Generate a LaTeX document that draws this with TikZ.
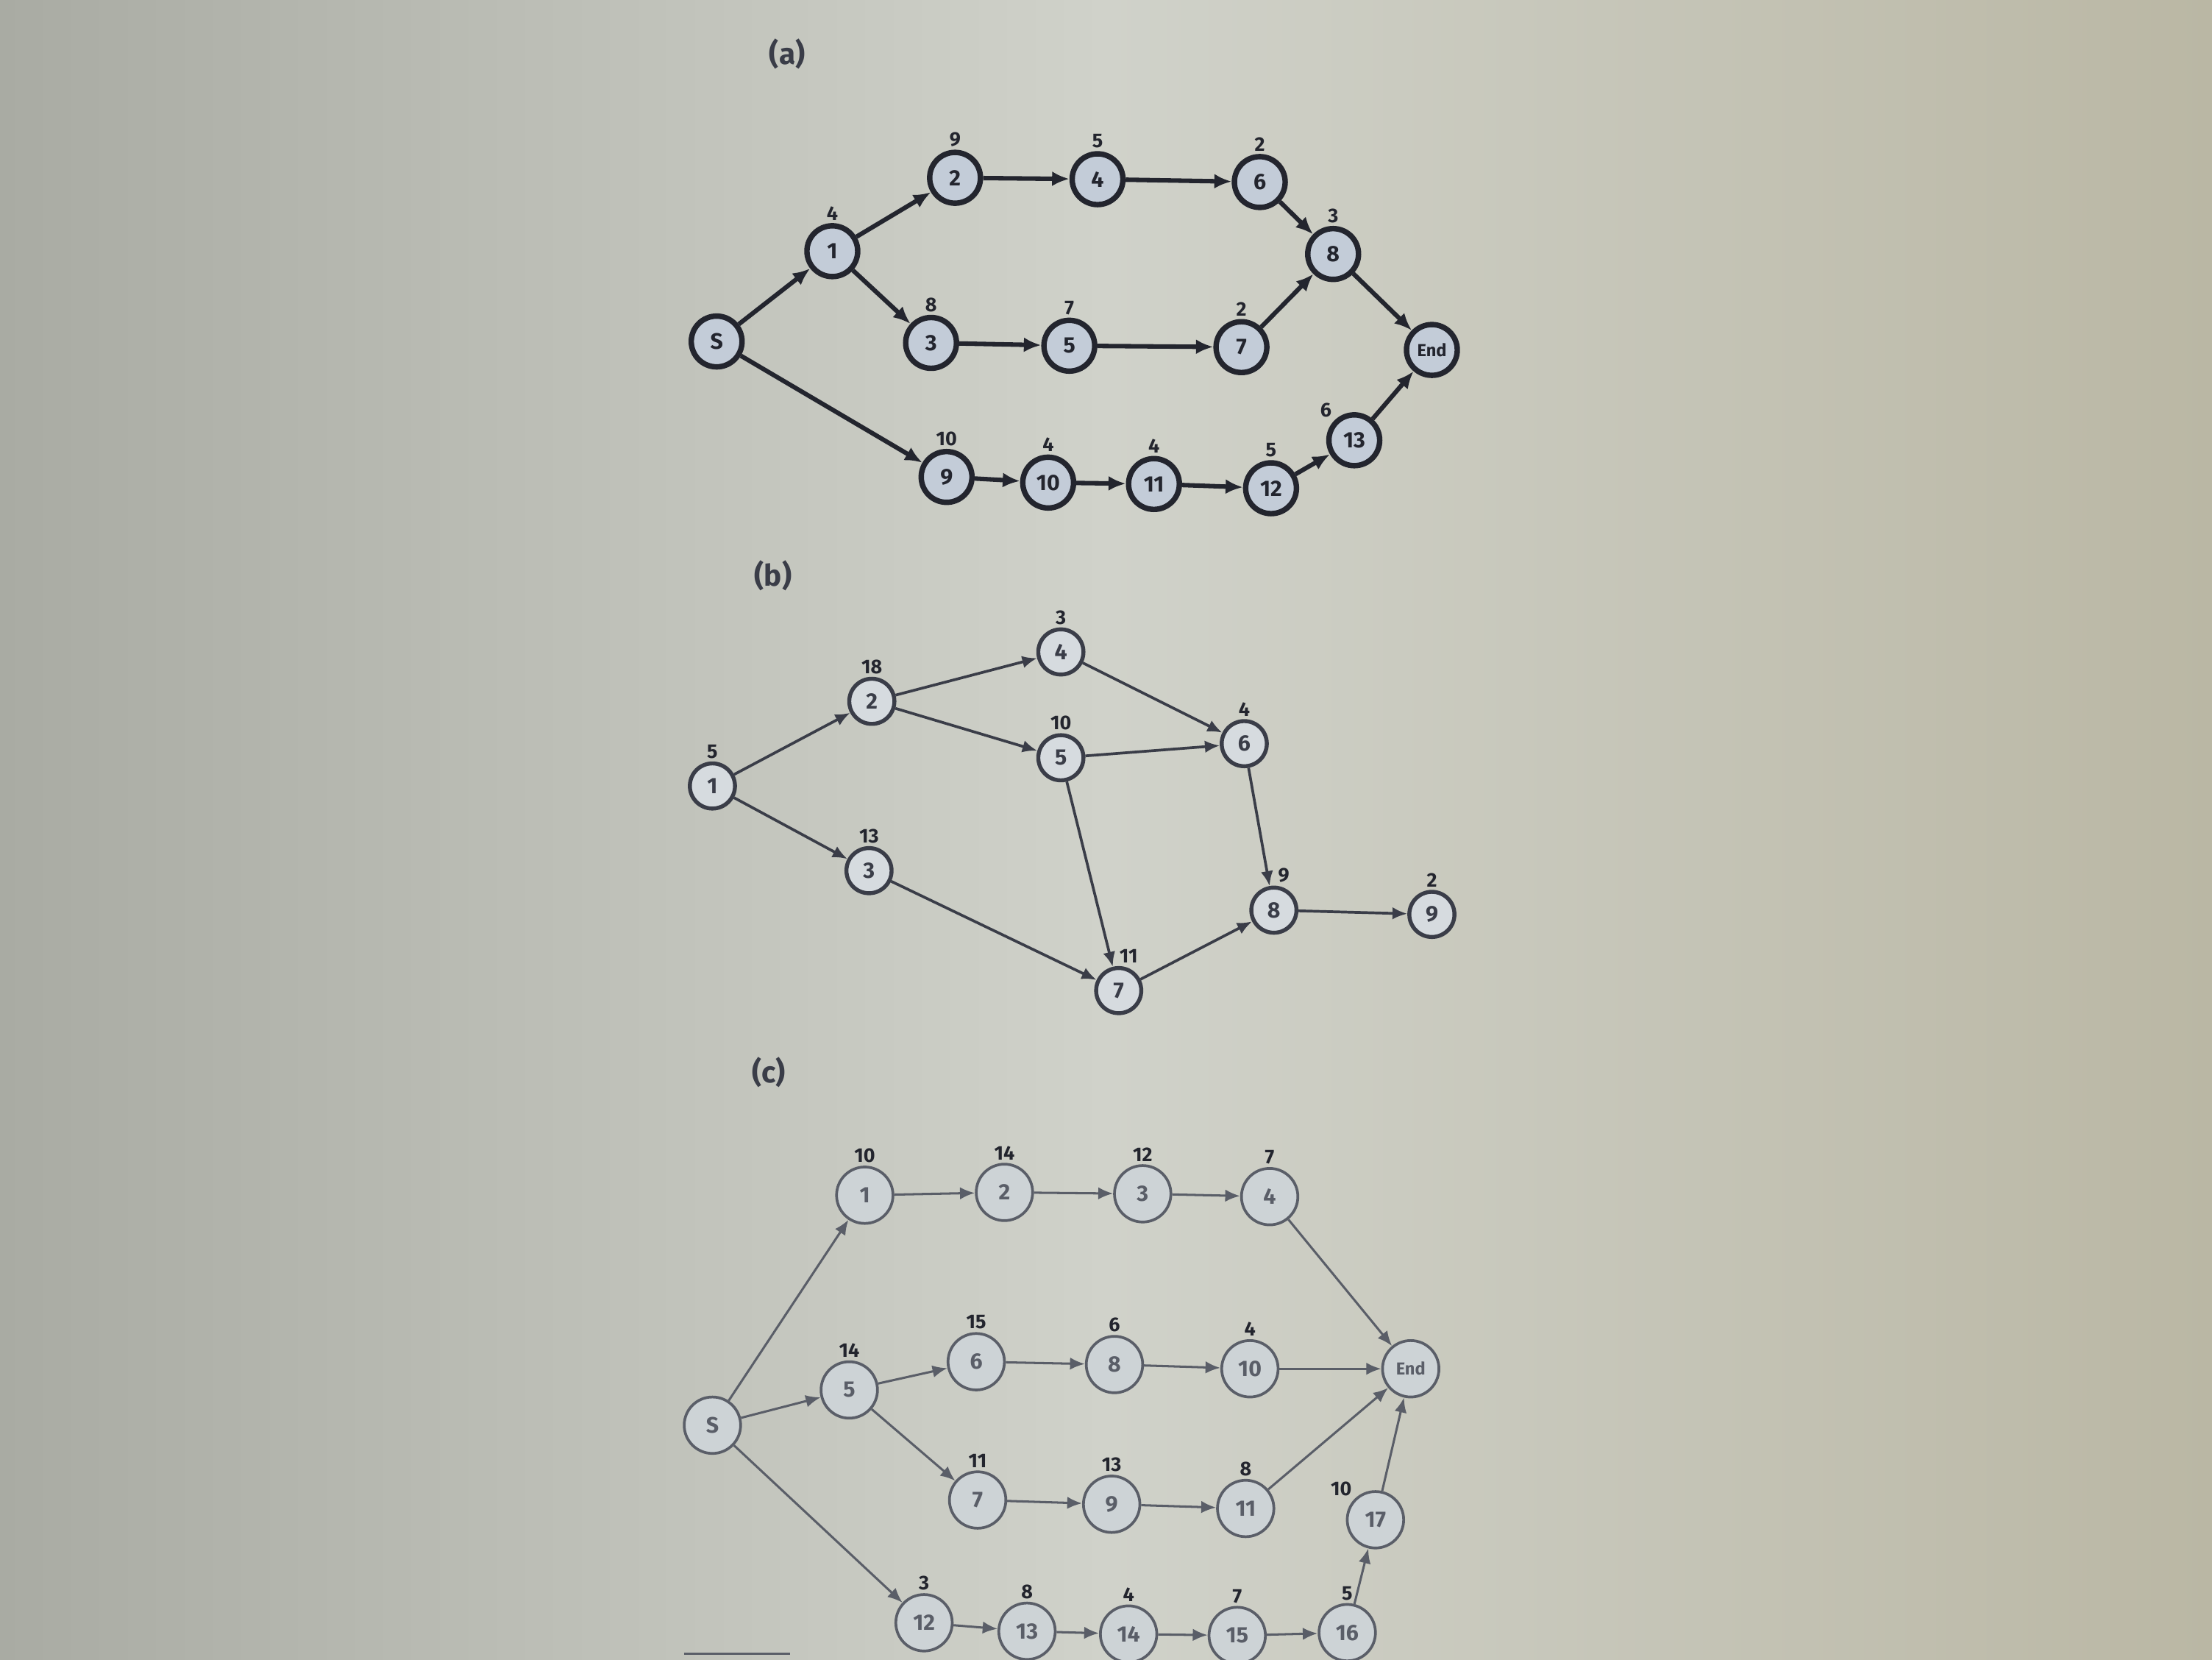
\documentclass[tikz,border=0pt]{standalone}
\usepackage{fontspec}
\setmainfont{Fira Sans}
\usetikzlibrary{arrows.meta}
\definecolor{bgl}{HTML}{A9ABA3}
\definecolor{bgm}{HTML}{D0D2CA}
\definecolor{bgr}{HTML}{BAB7A4}
\definecolor{inka}{HTML}{23252E}
\definecolor{inkb}{HTML}{3A3D48}
\definecolor{inkc}{HTML}{5A5E68}
\definecolor{filla}{HTML}{C3CCD8}
\definecolor{fillb}{HTML}{D6DBDF}
\definecolor{fillc}{HTML}{CDD3D6}
\begin{document}
\begin{tikzpicture}[x=0.02cm,y=-0.02cm,
  every label/.style={font=\bfseries\footnotesize, inner sep=1pt, text=inka},
  na/.style={circle, draw=inka, line width=2.2pt, fill=filla, minimum size=0.72cm, inner sep=0pt, font=\bfseries\small, text=inka, label distance=3.5pt},
  nb/.style={circle, draw=inkb, line width=1.6pt, fill=fillb, minimum size=0.64cm, inner sep=0pt, font=\bfseries\small, text=inkb, label distance=3.5pt},
  nc/.style={circle, draw=inkc, line width=1.1pt, fill=fillc, minimum size=0.8cm, inner sep=0pt, font=\bfseries\small, text=inkc, label distance=3pt},
  ea/.style={draw=inka, line width=1.8pt, -{Latex[length=7pt,width=6pt]}},
  eb/.style={draw=inkb, line width=1.1pt, -{Latex[length=6pt,width=5pt]}},
  ec/.style={draw=inkc, line width=0.9pt, -{Latex[length=6pt,width=5pt]}},
  ttl/.style={font=\bfseries\large, text=inkb}
]
\useasboundingbox (0,0) rectangle (1568,1176);
\shade[left color=bgl, right color=bgr, middle color=bgm] (0,0) rectangle (1568,1176);

% ---------------- (a)
\node[ttl] (ta) at (558,38) {(a)};
\node[na] (aS) at (508,242) {S};
\node[na, label=above:4] (a1) at (590,178) {1};
\node[na, label=above:9] (a2) at (677,126) {2};
\node[na, label=above:5] (a4) at (778,127) {4};
\node[na, label=above:2] (a6) at (893,129) {6};
\node[na, label=above:3] (a8) at (945,180) {8};
\node[na, label=above:8] (a3) at (660,243) {3};
\node[na, label=above:7] (a5) at (758,245) {5};
\node[na, label=above:2] (a7) at (880,246) {7};
\node[na, font=\bfseries\scriptsize] (aE) at (1015,248) {End};
\node[na, label=above:10] (a9) at (671,338) {9};
\node[na, label=above:4] (a10) at (743,342) {10};
\node[na, label=above:4] (a11) at (818,343) {11};
\node[na, label=above:5] (a12) at (901,346) {12};
\node[na, label={[label distance=0pt]above left:6}] (a13) at (960,312) {13};
\foreach \s/\t in {aS/a1,aS/a9,a1/a2,a1/a3,a2/a4,a4/a6,a6/a8,a3/a5,a5/a7,a7/a8,a8/aE,a9/a10,a10/a11,a11/a12,a12/a13,a13/aE}
  \draw[ea] (\s) -- (\t);

% ---------------- (b)
\node[ttl] (tb) at (548,408) {(b)};
\node[nb, label=above:5] (b1) at (505,557) {1};
\node[nb, label=above:18] (b2) at (618,497) {2};
\node[nb, label=above:3] (b4) at (752,462) {4};
\node[nb, label=above:10] (b5) at (752,537) {5};
\node[nb, label=above:4] (b6) at (882,527) {6};
\node[nb, label=above:13] (b3) at (616,617) {3};
\node[nb, label={[xshift=4pt]above:11}] (b7) at (793,702) {7};
\node[nb, label={[xshift=4pt]above:9}] (b8) at (903,645) {8};
\node[nb, label=above:2] (b9) at (1015,648) {9};
\foreach \s/\t in {b1/b2,b1/b3,b2/b4,b2/b5,b4/b6,b5/b6,b5/b7,b3/b7,b6/b8,b7/b8,b8/b9}
  \draw[eb] (\s) -- (\t);

% ---------------- (c)
\node[ttl] (tc) at (545,760) {(c)};
\node[nc] (cS) at (505,1010) {S};
\node[nc, label=above:10] (c1) at (613,847) {1};
\node[nc, label=above:14] (c2) at (712,845) {2};
\node[nc, label=above:12] (c3) at (810,846) {3};
\node[nc, label=above:7] (c4) at (900,848) {4};
\node[nc, label=above:14] (c5) at (602,985) {5};
\node[nc, label=above:15] (c6) at (692,965) {6};
\node[nc, label=above:6] (c8) at (790,967) {8};
\node[nc, label=above:4] (c10) at (886,970) {10};
\node[nc, font=\bfseries\scriptsize] (cE) at (1000,970) {End};
\node[nc, label=above:11] (c7) at (693,1063) {7};
\node[nc, label=above:13] (c9) at (788,1066) {9};
\node[nc, label=above:8] (c11) at (883,1069) {11};
\node[nc, label={[label distance=0pt]above left:10}] (c17) at (975,1077) {17};
\node[nc, label=above:3] (c12) at (655,1150) {12};
\node[nc, label=above:8] (c13) at (728,1156) {13};
\node[nc, label=above:4] (c14) at (800,1158) {14};
\node[nc, label=above:7] (c15) at (877,1159) {15};
\node[nc, label=above:5] (c16) at (955,1157) {16};
\foreach \s/\t in {cS/c1,cS/c5,cS/c12,c1/c2,c2/c3,c3/c4,c4/cE,c5/c6,c6/c8,c8/c10,c10/cE,c5/c7,c7/c9,c9/c11,c11/cE,c12/c13,c13/c14,c14/c15,c15/c16,c16/c17,c17/cE}
  \draw[ec] (\s) -- (\t);

% page edge fragment at the bottom
\coordinate (p1) at (485,1172);
\coordinate (p2) at (560,1172);
\draw[inkc, line width=1pt] (p1) -- (p2);
\end{tikzpicture}
\end{document}
